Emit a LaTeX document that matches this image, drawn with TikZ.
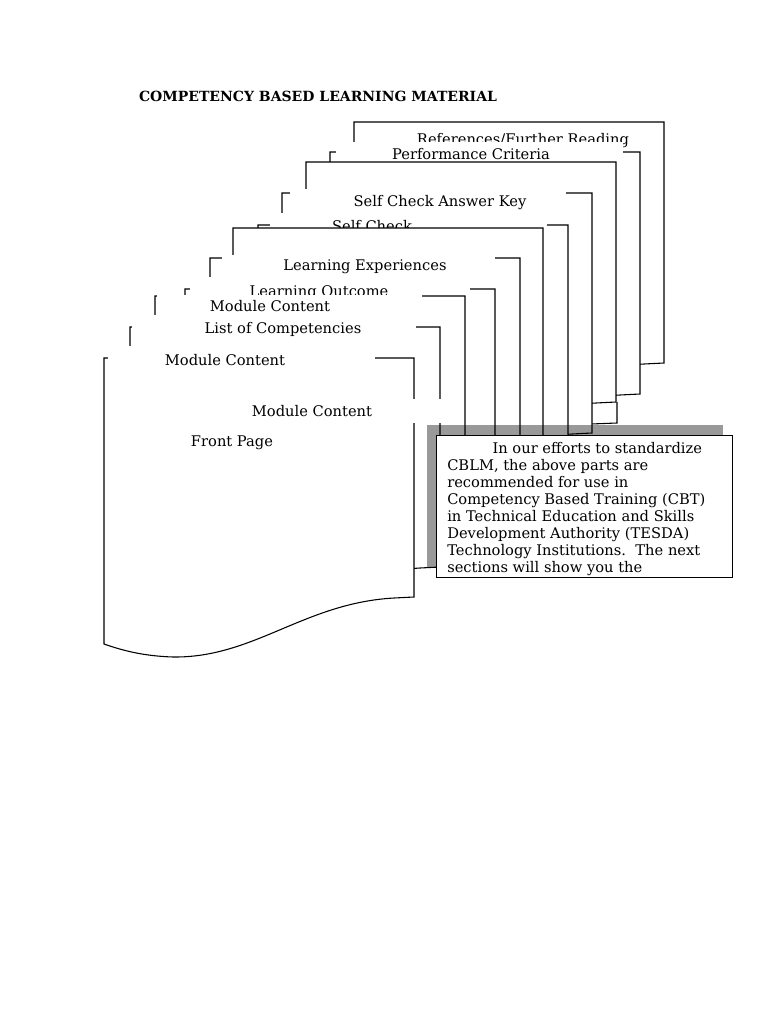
\documentclass[tikz,border=0pt]{standalone}
\usepackage{fontspec}
\setmainfont{DejaVu Serif}
\usepackage{tikz}
\usetikzlibrary{positioning,calc}
\definecolor{ink}{HTML}{000000}
\tikzset{
  sheet/.style={draw=ink,fill=white,line width=0.8pt},
  mask/.style={fill=white},
  tagtext/.style={inner sep=0pt,text height=9pt,text depth=2pt,
    font=\fontsize{11}{13}\selectfont},
  notebox/.style={draw=ink,fill=white,line width=1pt,anchor=north west,
    inner sep=0pt,minimum width=222pt,minimum height=106.5pt},
  notetxt/.style={anchor=north west,align=left,inner sep=0pt,
    font=\fontsize{11}{12.75}\selectfont},
  boxshade/.style={fill=black,fill opacity=0.4},
}
\newcommand{\sheetat}[3]{%
  \draw[sheet,shift={(#1,#2)}] (0,0) -- (310,0) -- (310,#3) -- (290,#3+1)
    .. controls (200,#3+6) and (150,#3+61) .. (69,#3+60)
    .. controls (40,#3+59) and (20,#3+54) .. (0,#3+47) -- cycle;}

\begin{document}
\begin{tikzpicture}[x=0.75pt,y=-0.75pt]
  \useasboundingbox (0,0) rectangle (768,1024);
  \node[font=\bfseries\fontsize{10.5}{12}\selectfont] (title) at (318,96)
    {COMPETENCY BASED LEARNING MATERIAL};
  % pages, back to front
  \sheetat{354}{122}{241}
  \fill[mask] (360,128) rectangle (660,148);
  \node[tagtext] (refs) at (523,140) {References/Further Reading};
  \sheetat{330}{152}{242}
  \fill[mask] (336,142) rectangle (623,161);
  \node[tagtext] (perf) at (471,155) {Performance Criteria};
  \sheetat{306}{162}{240}
  \draw[sheet,fill=none] (617,402) -- (617,423) -- (591,424);
  \sheetat{282}{193}{240}
  \fill[mask] (290,189) rectangle (566,213);
  \node[tagtext] (key) at (440,202) {Self Check Answer Key};
  \sheetat{258}{225}{240}
  \fill[mask] (270,213) rectangle (547,232);
  \node[tagtext] (check) at (372,227) {Self Check};
  \sheetat{233}{228}{240}
  \sheetat{210}{258}{240}
  \fill[mask] (222,255) rectangle (495,277);
  \node[tagtext] (exper) at (365,266) {Learning Experiences};
  \sheetat{185}{289}{240}
  \fill[mask] (190,277) rectangle (470,295);
  \node[tagtext] (outc) at (319,292) {Learning Outcome};
  \sheetat{155}{296}{240}
  \fill[mask] (157,295) rectangle (422,315);
  \node[tagtext] (modA) at (270,307) {Module Content};
  \sheetat{130}{327}{240}
  \fill[mask] (132,315) rectangle (416,346);
  \node[tagtext] (comp) at (283,329) {List of Competencies};
  \sheetat{104}{358}{239}
  \fill[mask] (108,346) rectangle (375,370);
  \node[tagtext] (modB) at (225,361) {Module Content};
  \fill[mask] (240,399) rectangle (445,423);
  \node[tagtext] (modC) at (312,412) {Module Content};
  \node[tagtext] (front) at (232,442) {Front Page};
  % note and its shade
  \fill[boxshade] (427,425) rectangle (723,568);
  \node[notebox] (note) at (436,435) {};
  \node[notetxt] (notetext) at (447,442)
    {\hspace*{34pt}In our efforts to standardize\\
     CBLM, the above parts are\\
     recommended for use in\\
     Competency Based Training (CBT)\\
     in Technical Education and Skills\\
     Development Authority (TESDA)\\
     Technology Institutions.\ \ The next\\
     sections will show you the};
\end{tikzpicture}
\end{document}
